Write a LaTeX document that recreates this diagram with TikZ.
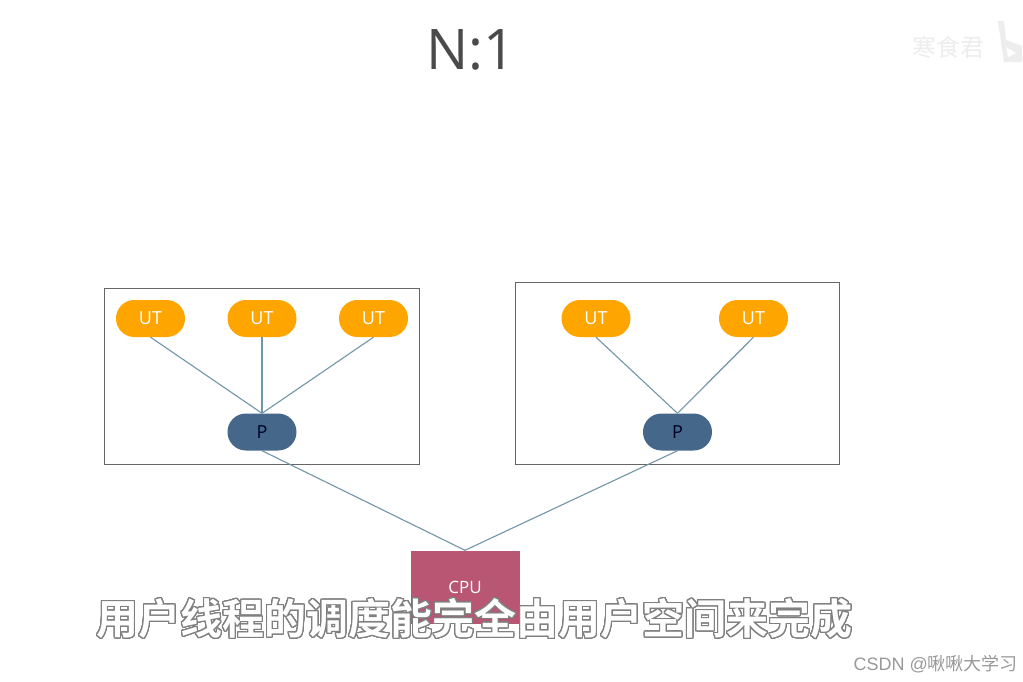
\documentclass[tikz,border=0pt]{standalone}
\usepackage{fontspec}
\setmainfont{Open Sans}
\newfontfamily\cjk[BoldFont={Noto Sans CJK SC Bold}]{Noto Sans CJK SC}
\newfontfamily\arial{Liberation Sans}
\usepackage{contour}
\contourlength{1.2pt}
\contournumber{32}
\definecolor{utorange}{HTML}{FFA500}
\definecolor{pblue}{HTML}{456789}
\definecolor{cpured}{HTML}{B85674}
\definecolor{linkc}{HTML}{7196A8}
\definecolor{boxc}{HTML}{666666}
\definecolor{titlec}{HTML}{4A4A4A}
\tikzset{
  x=1pt,y=-1pt,
  pill/.style={rounded corners=18.4pt,minimum width=69pt,minimum height=37pt,inner sep=0pt,font=\fontsize{18}{18}\selectfont},
  utnode/.style={pill,fill=utorange,text=white},
  pnode/.style={pill,fill=pblue,text=black!85!blue},
  frame/.style={draw=boxc,line width=0.9pt},
  link/.style={draw=linkc,line width=1.1pt},
}
\begin{document}
\begin{tikzpicture}
\useasboundingbox[fill=white] (0,0) rectangle (1023,681);
\node[text=titlec,font=\fontsize{56}{56}\selectfont,inner sep=0pt] (title) at (471,50) {N:1};
% watermark
\node[text=black!7,font=\cjk\fontsize{24}{24}\selectfont,inner sep=0pt] (wm) at (948,47) {寒食君};
\fill[black!7] (998,21) -- (1004,21) -- (1006,40) -- (1022,46) -- (1022,62) -- (1004,62) -- cycle;
\fill[white] (1006,47) -- (1016,53) -- (1008,57) -- cycle;
% frames
\node[frame,minimum width=315pt,minimum height=176pt,inner sep=0pt] (boxa) at (262,376.5) {};
\node[frame,minimum width=324pt,minimum height=182pt,inner sep=0pt] (boxb) at (677.5,373.5) {};
% nodes
\node[utnode] (u1) at (150.5,318.5) {UT};
\node[utnode] (u2) at (262,318.5) {UT};
\node[utnode] (u3) at (373.5,318.5) {UT};
\node[pnode] (p1) at (262,432) {P};
\node[utnode] (u4) at (596,318.5) {UT};
\node[utnode] (u5) at (753.5,318.5) {UT};
\node[pnode] (p2) at (677.5,432) {P};
\node[fill=cpured,minimum width=109pt,minimum height=73pt,inner sep=0pt] (cpu) at (465,587) {};
\node[text=white,font=\fontsize{17}{17}\selectfont,inner sep=0pt] (cpul) at (465,587) {CPU};
% links
\draw[link] (u1.south) -- (p1.north);
\draw[link] (u2.south) -- (p1.north);
\draw[link] (u3.south) -- (p1.north);
\draw[link] (u4.south) -- (p2.north);
\draw[link] (u5.south) -- (p2.north);
\draw[link] (p1.south) -- (cpu.north);
\draw[link] (p2.south) -- (cpu.north);
% subtitle
\node[inner sep=0pt,font=\cjk\bfseries\fontsize{42}{42}\selectfont,text=white] (sub) at (474.5,619) {\contour{black!50}{用户线程的调度能完全由用户空间来完成}};
\node[inner sep=0pt,font=\fontsize{18}{18}\selectfont,text=black!40,anchor=east] (csdn) at (1018,664) {\arial CSDN @\cjk 啾啾大学习};
\end{tikzpicture}
\end{document}
